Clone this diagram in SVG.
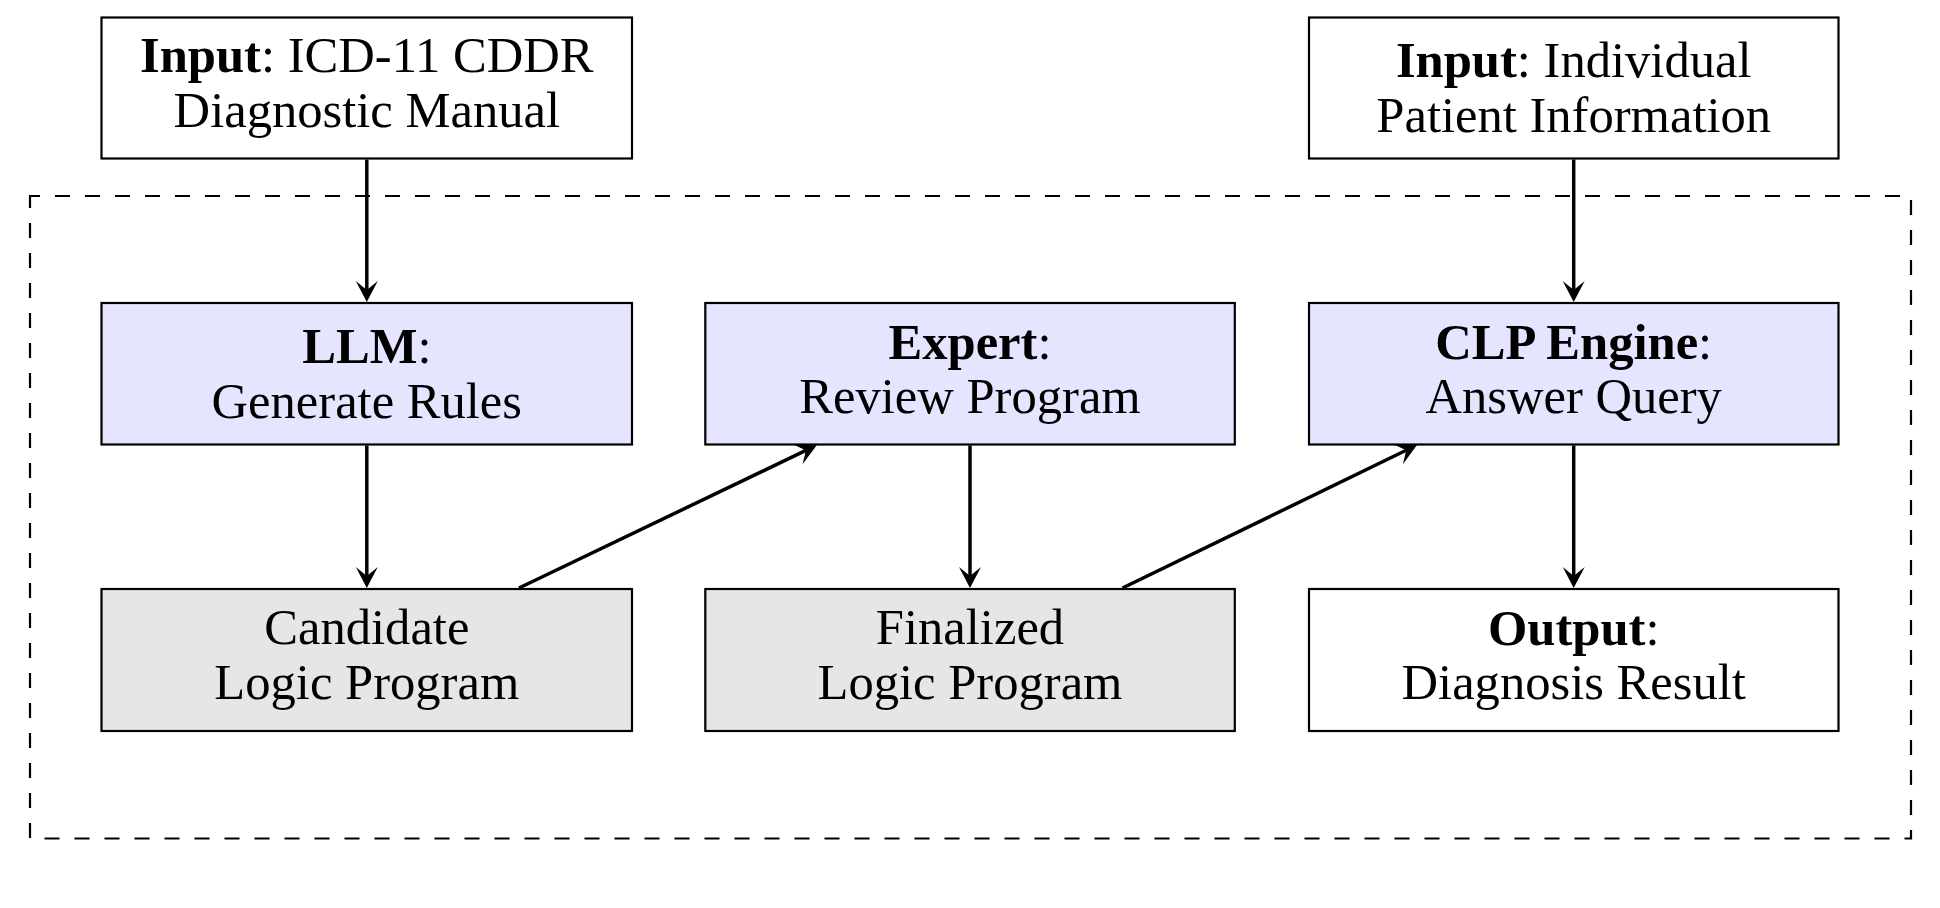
<svg xmlns="http://www.w3.org/2000/svg" width="1940" height="908" viewBox="0 0 1940 908">
<style>
.box{stroke:#000;stroke-width:2.2}
.plain{fill:#fff}
.blue{fill:#E5E5FF}
.gray{fill:#E6E6E6}
text{font-family:"Liberation Serif","Times New Roman",serif;font-size:50.6px;fill:#000;text-anchor:middle}
.b{font-weight:bold}
.arr{stroke:#000;stroke-width:3.5;fill:none;marker-end:url(#ah)}
.frame{stroke:#000;stroke-width:2.2;fill:none;stroke-dasharray:15 15;stroke-dashoffset:3}
</style>
<defs>
<marker id="ah" markerUnits="userSpaceOnUse" markerWidth="26" markerHeight="26" viewBox="0 -13 26 26" refX="9" refY="0" orient="auto">
<path d="M0,-11 L21,0 L0,11 L9,0 Z" fill="#000"/>
</marker>
</defs>
<rect width="1940" height="908" fill="#fff"/>
<path class="frame" d="M30,196 V838.5 H1911 V196 Z"/>
<g id="input-manual">
<rect class="box plain" x="101.5" y="17.5" width="530.5" height="141"/>
<text x="366.8" y="72"><tspan class="b">Input</tspan>: ICD-11 CDDR</text>
<text x="366.8" y="127">Diagnostic Manual</text>
</g>
<g id="input-patient">
<rect class="box plain" x="1309" y="17.5" width="529.5" height="141"/>
<text x="1573.7" y="77"><tspan class="b">Input</tspan>: Individual</text>
<text x="1573.7" y="132">Patient Information</text>
</g>
<g id="llm">
<rect class="box blue" x="101.5" y="303" width="530.5" height="141.5"/>
<text x="366.8" y="362.5"><tspan class="b">LLM</tspan>:</text>
<text x="366.8" y="417.5">Generate Rules</text>
</g>
<g id="expert">
<rect class="box blue" x="705.3" y="303" width="529.5" height="141.5"/>
<text x="970" y="359"><tspan class="b">Expert</tspan>:</text>
<text x="970" y="413">Review Program</text>
</g>
<g id="clp">
<rect class="box blue" x="1309" y="303" width="529.5" height="141.5"/>
<text x="1573.7" y="359"><tspan class="b">CLP Engine</tspan>:</text>
<text x="1573.7" y="413">Answer Query</text>
</g>
<g id="candidate">
<rect class="box gray" x="101.5" y="589" width="530.5" height="142"/>
<text x="366.8" y="644">Candidate</text>
<text x="366.8" y="699">Logic Program</text>
</g>
<g id="finalized">
<rect class="box gray" x="705.3" y="589" width="529.5" height="142"/>
<text x="970" y="644">Finalized</text>
<text x="970" y="699">Logic Program</text>
</g>
<g id="output">
<rect class="box plain" x="1309" y="589" width="529.5" height="142"/>
<text x="1573.7" y="645"><tspan class="b">Output</tspan>:</text>
<text x="1573.7" y="699">Diagnosis Result</text>
</g>
<g id="connectors">
<path class="arr" d="M366.8,159.5 V290"/>
<path class="arr" d="M1573.7,159.5 V290"/>
<path class="arr" d="M366.8,445.5 V576"/>
<path class="arr" d="M970,445.5 V576"/>
<path class="arr" d="M1573.7,445.5 V576"/>
<path class="arr" d="M519,588 L805.9,450.4"/>
<path class="arr" d="M1122.5,588 L1406.2,450.3"/>
</g>
</svg>
